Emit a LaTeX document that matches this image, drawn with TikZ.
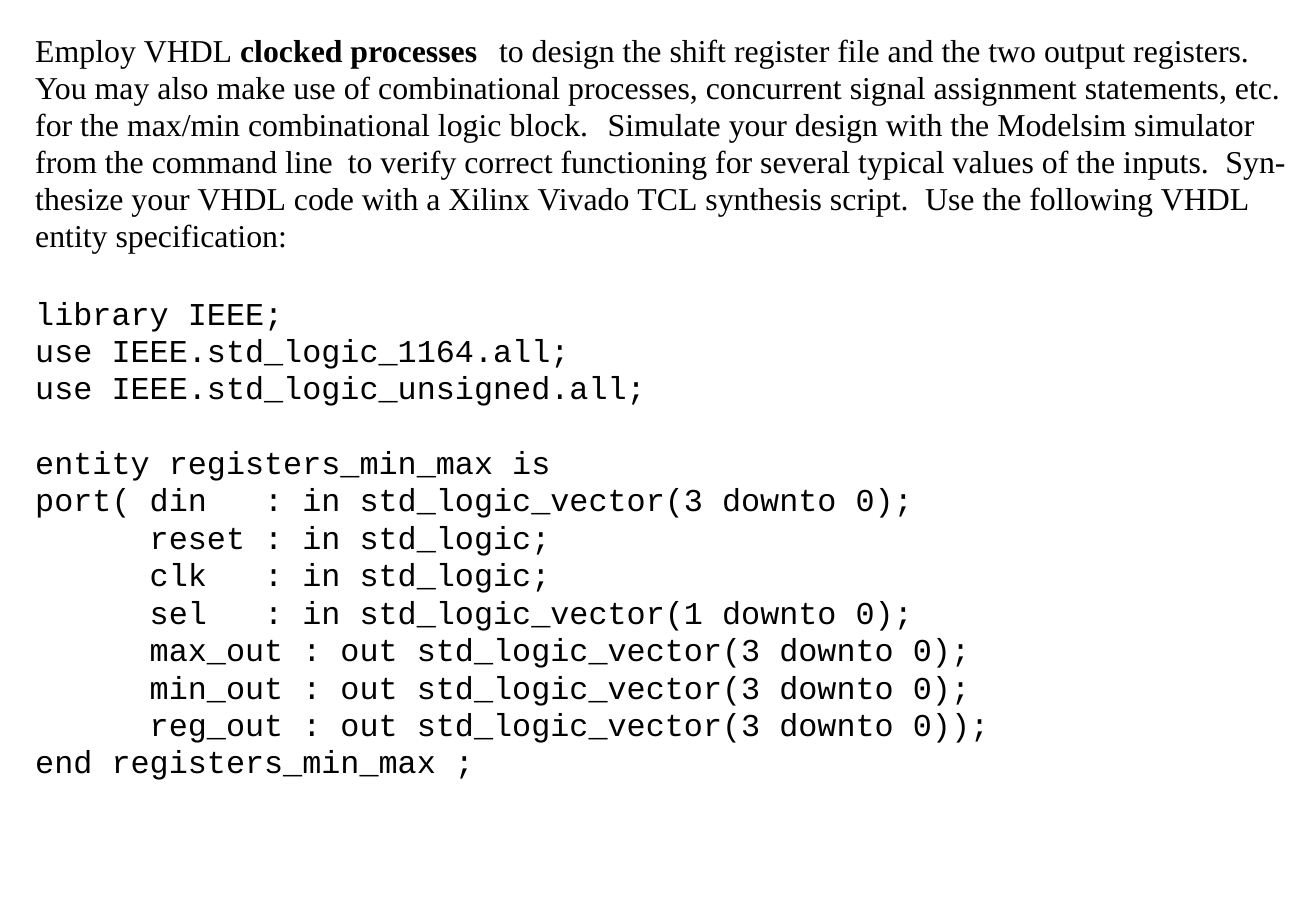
\documentclass[tikz,border=0pt]{standalone}
\usepackage{fontspec}
\setmainfont{Liberation Serif}
\setmonofont{Liberation Mono}
\begin{document}
\begin{tikzpicture}[x=1pt,y=-1pt,
  prose/.style={anchor=base west,inner sep=0pt,font=\fontsize{31.8}{37}\selectfont},
  code/.style={anchor=base west,inner sep=0pt,font=\ttfamily\fontsize{31.8}{37}\selectfont}]
\useasboundingbox[fill=white] (0,0) rectangle (1309,918);
\node[prose] (p1) at (35,62) {Employ VHDL \textbf{clocked processes}\hspace{14pt} to design the shift register file and the two output registers.};
\node[prose] (p2) at (35,99) {You may also make use of combinational processes, concurrent signal assignment statements, etc.};
\node[prose] (p3) at (35,136) {for the max/min combinational logic block.\hspace{9pt} Simulate your design with the Modelsim simulator};
\node[prose] (p4) at (35,173) {from the command line\hspace{7pt} to verify correct functioning for several typical values of the inputs.\hspace{6pt} Syn-};
\node[prose] (p5) at (35,210) {thesize your VHDL code with a Xilinx Vivado TCL synthesis script.\hspace{6pt} Use the following VHDL};
\node[prose] (p6) at (35,247) {entity specification:};
\node[code] (c1) at (35,325) {library IEEE;};
\node[code] (c2) at (35,362) {use IEEE.std\_logic\_1164.all;};
\node[code] (c3) at (35,399) {use IEEE.std\_logic\_unsigned.all;};
\node[code] (c4) at (35,474) {entity registers\_min\_max is};
\node[code] (c5) at (35,511) {port(~din~~~:~in~std\_logic\_vector(3~downto~0);};
\node[code] (c6) at (35,549) {~~~~~~reset~:~in~std\_logic;};
\node[code] (c7) at (35,586) {~~~~~~clk~~~:~in~std\_logic;};
\node[code] (c8) at (35,624) {~~~~~~sel~~~:~in~std\_logic\_vector(1~downto~0);};
\node[code] (c9) at (35,661) {~~~~~~max\_out~:~out~std\_logic\_vector(3~downto~0);};
\node[code] (c10) at (35,699) {~~~~~~min\_out~:~out~std\_logic\_vector(3~downto~0);};
\node[code] (c11) at (35,736) {~~~~~~reg\_out~:~out~std\_logic\_vector(3~downto~0));};
\node[code] (c12) at (35,773) {end~registers\_min\_max~;};
\end{tikzpicture}
\end{document}
